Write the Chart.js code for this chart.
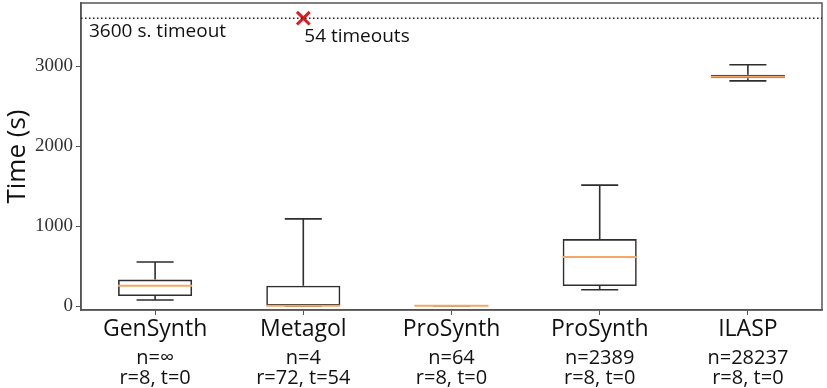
<!DOCTYPE html>
<html lang="en">
  <head>
    <meta charset="UTF-8" />
    <title>Time per system</title>
    <script src="https://cdn.jsdelivr.net/npm/chart.js"></script>
    <style>
      html, body { margin: 0; padding: 0; background: #fff; }
      #wrap { width: 827px; height: 388px; }
    </style>
  </head>
  <body>
    <div id="wrap"><canvas id="boxChart"></canvas></div>

    <script>
      // categories and the extra label lines under each one
      const categories = ["GenSynth", "Metagol", "ProSynth", "ProSynth", "ILASP"];
      const nLabels = ["n=\u221E", "n=4", "n=64", "n=2389", "n=28237"];
      const rtLabels = ["r=8, t=0", "r=72, t=54", "r=8, t=0", "r=8, t=0", "r=8, t=0"];

      // box plot statistics (seconds)
      const whiskerLow = [75, 0, 3, 204, 2816];
      const q1 = [125, 0, 3, 250, 2850];
      const median = [254, 3, 3, 612, 2866];
      const q3 = [330, 254, 3, 837, 2891];
      const whiskerHigh = [550, 1090, 3, 1512, 3017];

      // timeout marker
      const timeoutLimit = 3600;
      const timeoutMarks = [null, 3600, null, null, null];
      const timeoutText = "54 timeouts";
      const yTicks = [0, 1000, 2000, 3000];

      const sans = "'Open Sans', 'DejaVu Sans', sans-serif";
      const serif = "'Liberation Serif', 'DejaVu Serif', serif";
      const lineColor = "#2e2e2e";
      const medianColor = "#f6a765";

      const boxPlugin = {
        id: "boxExtras",
        afterDatasetsDraw(chart) {
          const { ctx, scales: { x, y } } = chart;
          const meta = chart.getDatasetMeta(0);
          ctx.save();
          ctx.strokeStyle = lineColor;
          ctx.lineWidth = 1.6;
          categories.forEach((c, i) => {
            const cx = x.getPixelForValue(i);
            const half = meta.data[i].width / 2;
            const cap = half / 2;
            ctx.beginPath();
            ctx.moveTo(cx, y.getPixelForValue(q3[i]));
            ctx.lineTo(cx, y.getPixelForValue(whiskerHigh[i]));
            ctx.moveTo(cx - cap, y.getPixelForValue(whiskerHigh[i]));
            ctx.lineTo(cx + cap, y.getPixelForValue(whiskerHigh[i]));
            ctx.moveTo(cx, y.getPixelForValue(q1[i]));
            ctx.lineTo(cx, y.getPixelForValue(whiskerLow[i]));
            ctx.moveTo(cx - cap, y.getPixelForValue(whiskerLow[i]));
            ctx.lineTo(cx + cap, y.getPixelForValue(whiskerLow[i]));
            ctx.stroke();
          });
          ctx.strokeStyle = medianColor;
          ctx.lineWidth = 2;
          categories.forEach((c, i) => {
            const cx = x.getPixelForValue(i);
            const half = meta.data[i].width / 2;
            const my = y.getPixelForValue(median[i]);
            ctx.beginPath();
            ctx.moveTo(cx - half, my);
            ctx.lineTo(cx + half, my);
            ctx.stroke();
          });
          ctx.restore();
        },
        afterDraw(chart) {
          const { ctx, chartArea: a, scales: { x, y } } = chart;
          ctx.save();
          // frame
          ctx.strokeStyle = "#555";
          ctx.lineWidth = 1.5;
          ctx.strokeRect(a.left, a.top, a.right - a.left, a.bottom - a.top);
          // timeout line
          const ty = y.getPixelForValue(timeoutLimit);
          ctx.strokeStyle = "#222";
          ctx.setLineDash([1.5, 2.5]);
          ctx.beginPath();
          ctx.moveTo(a.left, ty);
          ctx.lineTo(a.right, ty);
          ctx.stroke();
          ctx.setLineDash([]);
          ctx.fillStyle = "#111";
          ctx.font = "19px " + sans;
          ctx.textBaseline = "middle";
          ctx.textAlign = "left";
          ctx.fillText(timeoutLimit + " s. timeout", a.left + 8, ty + 13);
          const mi = timeoutMarks.findIndex((v) => v !== null);
          ctx.fillText(timeoutText, x.getPixelForValue(mi) + 1, ty + 18);
          // n / r lines under the category names
          ctx.textAlign = "center";
          ctx.font = "20px " + sans;
          categories.forEach((c, i) => {
            const cx = x.getPixelForValue(i);
            ctx.fillText(nLabels[i], cx, 358);
            ctx.fillText(rtLabels[i], cx, 378);
          });
          ctx.restore();
        },
      };

      new Chart(document.getElementById("boxChart"), {
        data: {
          labels: categories,
          datasets: [
            {
              type: "bar",
              data: categories.map((c, i) => [q1[i], q3[i]]),
              backgroundColor: "rgba(0,0,0,0)",
              borderColor: lineColor,
              borderWidth: 1.6,
              borderSkipped: false,
              barPercentage: 0.5,
              categoryPercentage: 1,
            },
            {
              type: "line",
              data: timeoutMarks,
              showLine: false,
              pointStyle: "crossRot",
              pointRadius: 9,
              pointBorderWidth: 3,
              pointBorderColor: "#e41a1c",
              pointBackgroundColor: "#e41a1c",
              clip: false,
            },
          ],
        },
        options: {
          responsive: true,
          maintainAspectRatio: false,
          animation: false,
          layout: { autoPadding: false, padding: { top: 3, right: 5, left: 0, bottom: 0 } },
          plugins: { legend: { display: false }, tooltip: { enabled: false } },
          scales: {
            x: {
              offset: true,
              grid: { offset: false, drawOnChartArea: false, tickLength: 5, color: "#555" },
              border: { color: "#555", width: 1.5 },
              ticks: { color: "#111", padding: 1, font: { family: sans, size: 23 } },
              afterFit(scale) {
                scale.height = 78;
                scale.paddingLeft = 0;
                scale.paddingRight = 0;
              },
            },
            y: {
              min: -50,
              max: 3790,
              grid: { drawOnChartArea: false, tickLength: 5, color: "#555" },
              border: { color: "#555", width: 1.5 },
              afterBuildTicks(scale) { scale.ticks = yTicks.map((v) => ({ value: v })); },
              ticks: {
                color: "#333",
                padding: 3,
                font: { family: serif, size: 19 },
                callback: (v) => String(v),
              },
              title: {
                display: true,
                text: "Time (s)",
                color: "#111",
                padding: { top: 2, bottom: 0 },
                font: { family: sans, size: 26 },
              },
              afterFit(scale) {
                scale.width = 81;
                scale.paddingTop = 0;
                scale.paddingBottom = 0;
              },
            },
          },
        },
        plugins: [boxPlugin],
      });
    </script>
  </body>
</html>
